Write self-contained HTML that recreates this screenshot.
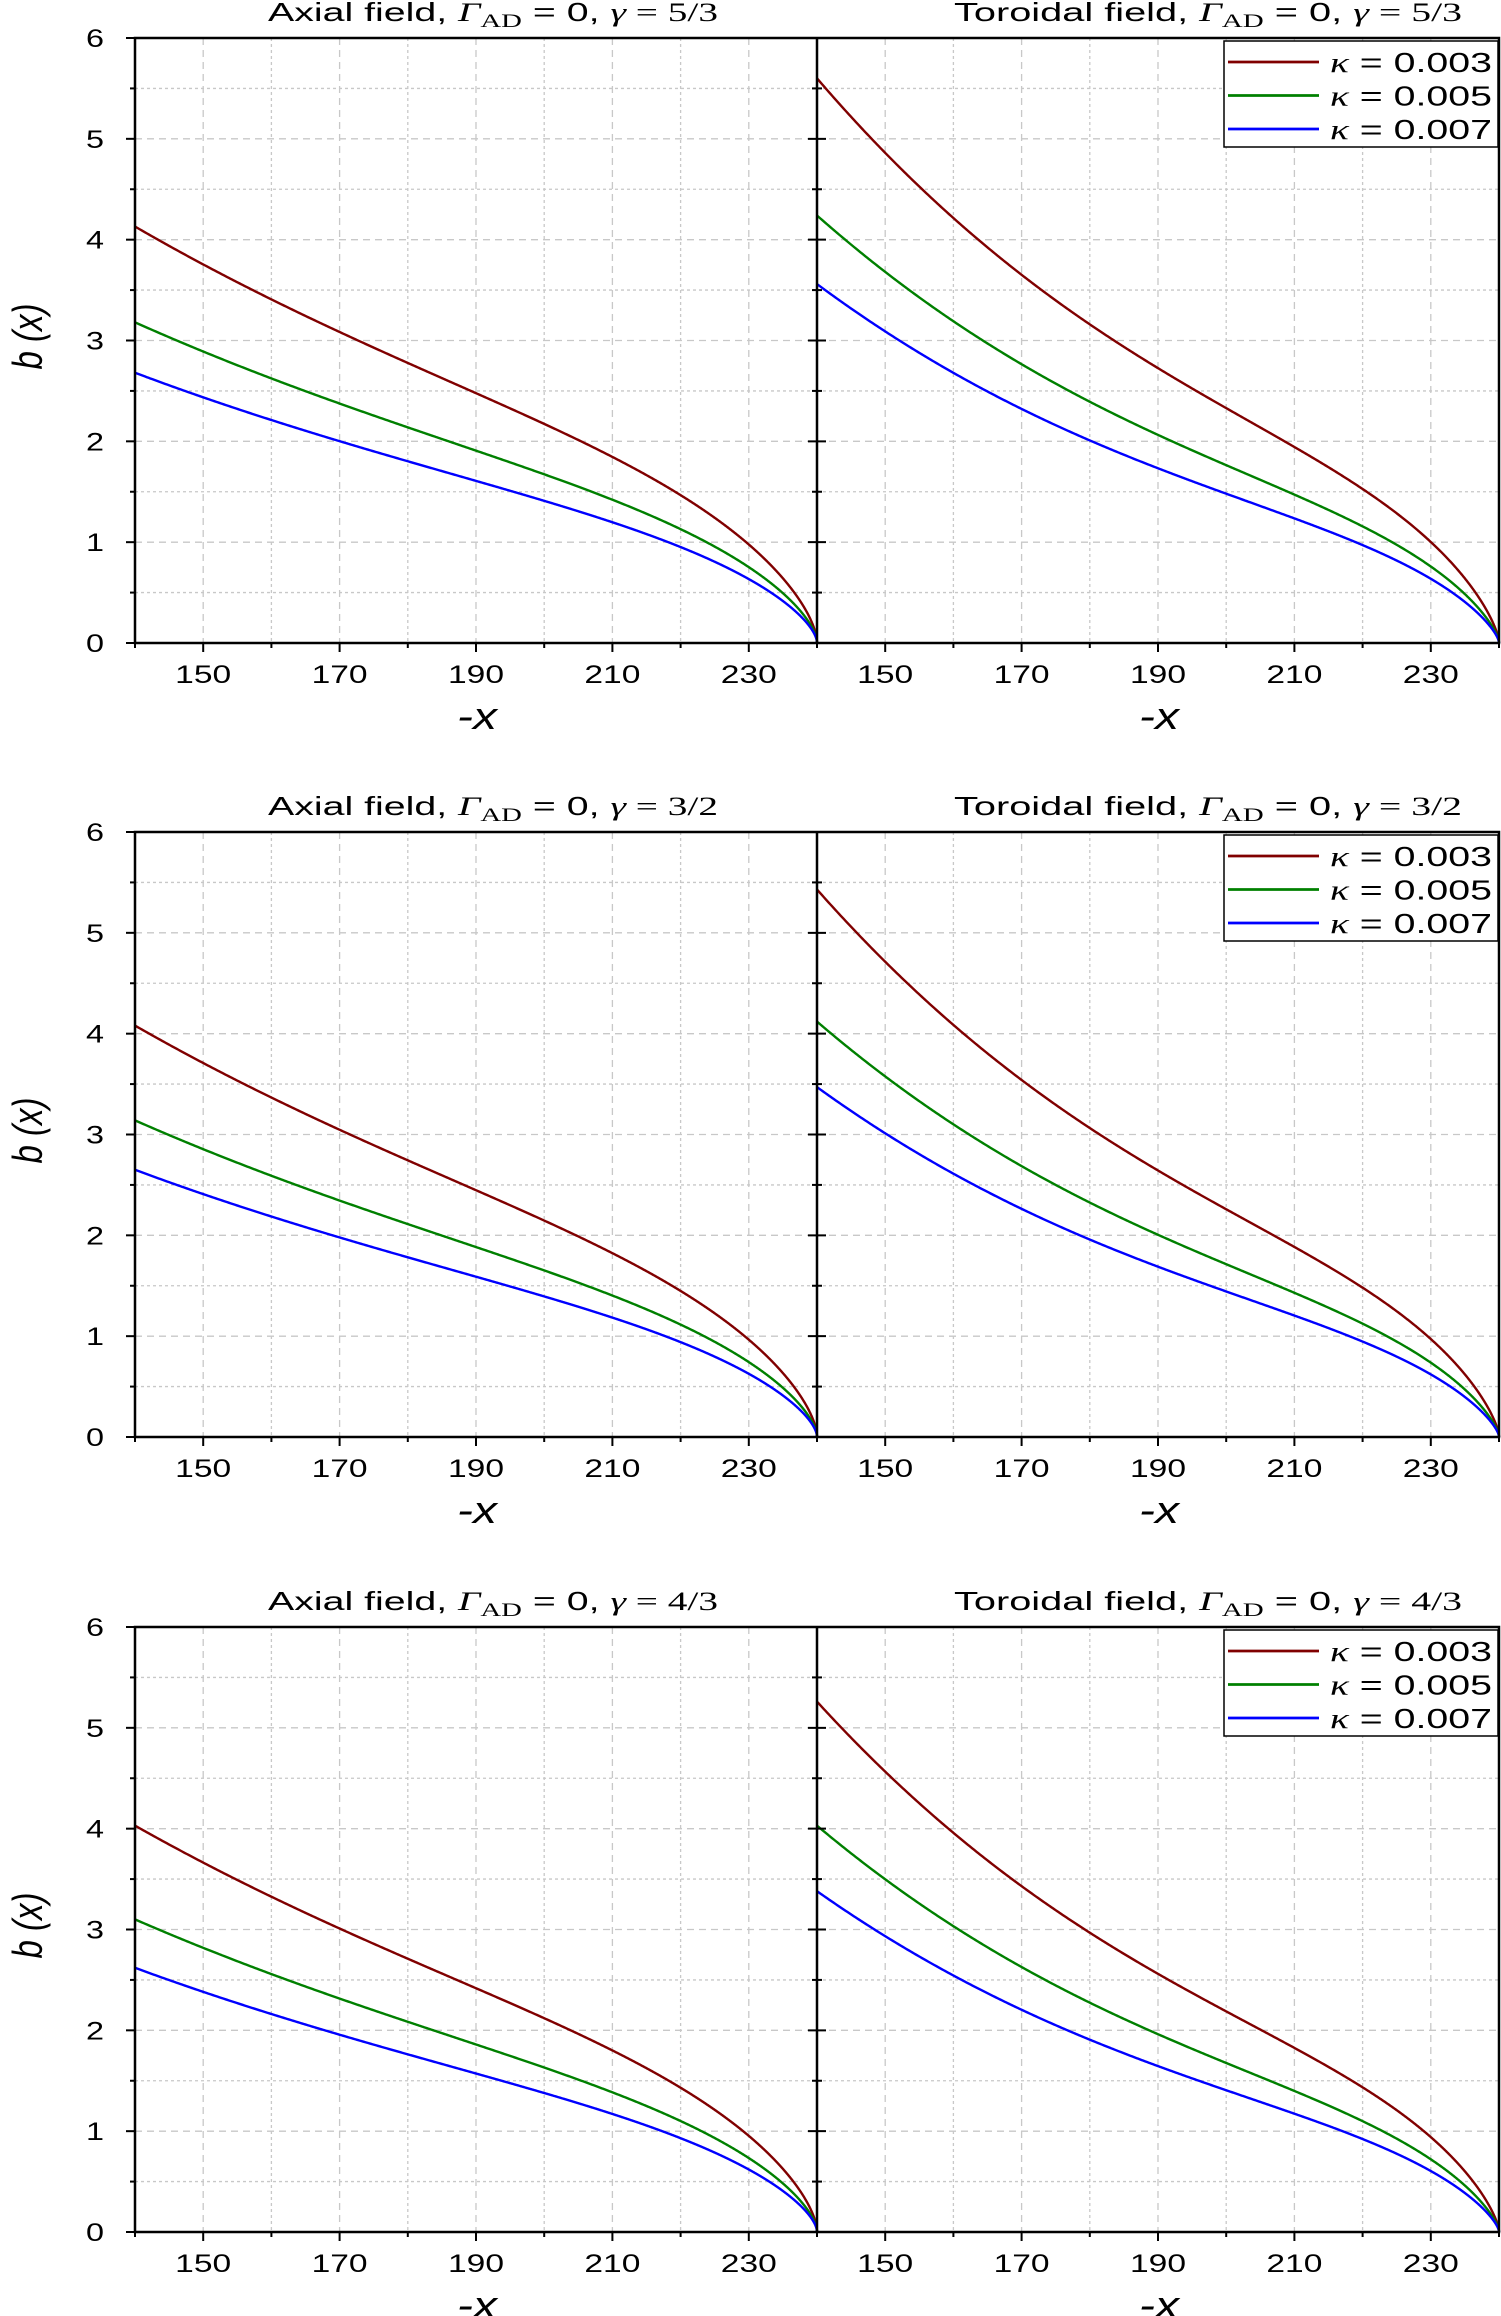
<!DOCTYPE html>
<html><head><meta charset="utf-8"><style>
html,body{margin:0;padding:0;background:#fff;}
svg{display:block;}
</style></head><body>
<svg id="s" xmlns="http://www.w3.org/2000/svg" width="1501" height="2316" viewBox="0 0 1501 2316"></svg>
<script>
const s=document.getElementById('s');
let h='';
const rows=[38,832,1627], PH=605, cols=[135,817], PW=682;
const gam=['5/3','3/2','4/3'];
const vals=[
 [[4.13,3.18,2.68],[5.6,4.24,3.56]],
 [[4.08,3.14,2.65],[5.43,4.12,3.47]],
 [[4.03,3.10,2.62],[5.26,4.03,3.38]]];
const colors=['#800000','#008000','#0000ff'];
function fit(data){
 const n=4, M=[], B=[];
 for(let i=0;i<n;i++){M.push(new Array(n).fill(0));B.push(0);}
 for(const [d,f,w] of data){
  const u=Math.sqrt(d/100); const ph=[u,u*u,u*u*u,u*u*u*u];
  for(let i=0;i<n;i++){B[i]+=w*ph[i]*f;for(let j=0;j<n;j++)M[i][j]+=w*ph[i]*ph[j];}
 }
 for(let i=0;i<n;i++){
  let p=i;for(let k=i+1;k<n;k++)if(Math.abs(M[k][i])>Math.abs(M[p][i]))p=k;
  [M[i],M[p]]=[M[p],M[i]];[B[i],B[p]]=[B[p],B[i]];
  for(let k=i+1;k<n;k++){const r=M[k][i]/M[i][i];for(let j=i;j<n;j++)M[k][j]-=r*M[i][j];B[k]-=r*B[i];}
 }
 const c=new Array(n).fill(0);
 for(let i=n-1;i>=0;i--){let t=B[i];for(let j=i+1;j<n;j++)t-=M[i][j]*c[j];c[i]=t/M[i][i];}
 return d=>{const u=Math.sqrt(Math.max(d,0)/100);return c[0]*u+c[1]*u*u+c[2]*u*u*u+c[3]*u*u*u*u;};
}
const FA=fit([[2,.08,1],[5,.16,1],[10,.24,1],[20,.36,1],[30,.438,1],[50,.60,1],[70,.75,1],[100,1,20]]);
const FT=fit([[2,.059,1],[5,.118,1],[10,.179,1],[20,.271,1],[30,.346,1],[50,.49,1],[70,.65,1],[100,1,20]]);
const F='font-family="Liberation Sans, Arial, sans-serif"';
const SF='font-family="Liberation Serif, Times New Roman, serif"';
const LA='lengthAdjust="spacingAndGlyphs"';
for(let r=0;r<3;r++){
 const y6=rows[r], y0=y6+PH, uy=PH/6;
 for(let c=0;c<2;c++){
  const x0=cols[c];
  for(let k=1;k<12;k++){
   const y=y0-k*uy/2;
   h+=`<line x1="${x0}" y1="${y}" x2="${x0+PW}" y2="${y}" stroke="#c8c8c8" stroke-width="1.3" stroke-dasharray="${k%2?'3,3':'7,5'}"/>`;
  }
  for(let v=150;v<240;v+=10){
   const x=x0+(v-140)*PW/100;
   h+=`<line x1="${x}" y1="${y6}" x2="${x}" y2="${y0}" stroke="#c8c8c8" stroke-width="1.3" stroke-dasharray="${(v/10)%2?'7,5':'3,3'}"/>`;
  }
 }
 for(let c=0;c<2;c++){
  const x0=cols[c], Fn=c?FT:FA;
  for(let k=0;k<3;k++){
   const A=vals[r][c][k];
   let d='';
   for(let i=0;i<=800;i++){
    const dd=100*Math.pow(1-i/800,2);
    const x=x0+(100-dd)*PW/100, y=y0-A*Fn(dd)*uy;
    d+=(i?'L':'M')+x.toFixed(2)+','+y.toFixed(2);
   }
   h+=`<path d="${d}" fill="none" stroke="${colors[k]}" stroke-width="2.4"/>`;
  }
 }
 h+=`<rect x="135" y="${y6}" width="1364" height="${PH}" fill="none" stroke="#000" stroke-width="2.5"/>`;
 h+=`<line x1="817" y1="${y6}" x2="817" y2="${y0}" stroke="#000" stroke-width="2.5"/>`;
 for(let k=0;k<=12;k++){
  const y=y0-k*uy/2, L=k%2?5:9;
  h+=`<line x1="${135-L}" y1="${y}" x2="135" y2="${y}" stroke="#000" stroke-width="2"/>`;
  h+=`<line x1="${817-L}" y1="${y}" x2="${817+L}" y2="${y}" stroke="#000" stroke-width="2"/>`;
  if(k%2==0) h+=`<text x="104" y="${y+9}" ${F} font-size="25" text-anchor="end" textLength="18" ${LA}>${k/2}</text>`;
 }
 for(let c=0;c<2;c++){
  const x0=cols[c];
  for(let v=140;v<=240;v+=10){
   const x=x0+(v-140)*PW/100, L=(v/10)%2?9:5;
   h+=`<line x1="${x}" y1="${y0}" x2="${x}" y2="${y0+L}" stroke="#000" stroke-width="2"/>`;
   if((v/10)%2==1 && v<240) h+=`<text x="${x-28}" y="${y0+40}" ${F} font-size="25" textLength="56" ${LA}>${v}</text>`;
  }
  h+=`<text x="${x0+PW/2-19}" y="${y0+86}" ${F} font-size="38" font-style="italic" textLength="40" ${LA}>-x</text>`;
  const name=c?'Toroidal field, ':'Axial field, ';
  const tx=c?954:268, tw=c?508:450;
  h+=`<text x="${tx}" y="${y6-17}" font-size="26" textLength="${tw}" ${LA}><tspan ${F}>${name}</tspan><tspan ${SF} font-style="italic">Γ</tspan><tspan ${SF} font-size="19" dy="6">AD</tspan><tspan ${F} dy="-6"> = 0, </tspan><tspan ${SF} font-style="italic">γ</tspan><tspan ${SF}> = ${gam[r]}</tspan></text>`;
 }
 const ym=y6+PH/2-4;
 h+=`<text transform="translate(42,${ym}) rotate(-90)" ${F} font-size="42" font-style="italic" text-anchor="middle" textLength="66" ${LA}>b (x)</text>`;
 h+=`<rect x="1224" y="${y6+3}" width="274" height="106" fill="#fff" stroke="#000" stroke-width="1.5"/>`;
 const ks=['0.003','0.005','0.007'];
 for(let k=0;k<3;k++){
  const y=y6+24+k*33.5;
  h+=`<line x1="1228" y1="${y}" x2="1319" y2="${y}" stroke="${colors[k]}" stroke-width="2.8"/>`;
  h+=`<text x="1330" y="${y+10}" font-size="28" textLength="162" ${LA}><tspan ${SF} font-style="italic">κ</tspan><tspan ${F}> = ${ks[k]}</tspan></text>`;
 }
}
s.innerHTML=h;
</script>
</body></html>
